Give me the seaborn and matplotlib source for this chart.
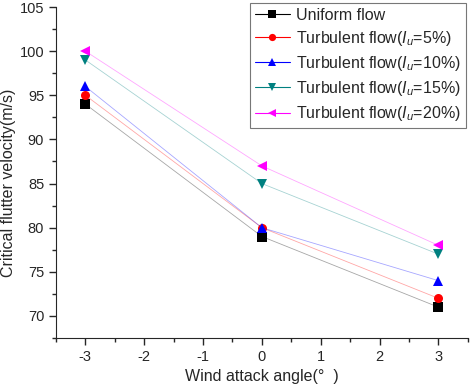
import matplotlib
matplotlib.use('Agg')
import matplotlib.pyplot as plt
import pandas as pd
import seaborn as sns
from matplotlib.colors import to_rgba
from matplotlib.ticker import MultipleLocator

angles = [-3, 0, 3]
uniform = [94, 79, 71]
turb_5 = [95, 80, 72]
turb_10 = [96, 80, 74]
turb_15 = [99, 85, 77]
turb_20 = [100, 87, 78]

labels = [
    'Uniform flow',
    r'Turbulent flow($I_u$=5%)',
    r'Turbulent flow($I_u$=10%)',
    r'Turbulent flow($I_u$=15%)',
    r'Turbulent flow($I_u$=20%)',
]
series = [uniform, turb_5, turb_10, turb_15, turb_20]
colors = ['#000000', '#ff0000', '#0000ff', '#008080', '#ff00ff']
markers = ['s', 'o', '^', 'v', '<']

rows = []
for lab, vals in zip(labels, series):
    for a, v in zip(angles, vals):
        rows.append({'angle': a, 'velocity': v, 'case': lab})
df = pd.DataFrame(rows)

sns.set_style('ticks')
plt.rcParams['font.family'] = ['Liberation Sans', 'DejaVu Sans']
plt.rcParams['mathtext.fontset'] = 'custom'
plt.rcParams['mathtext.it'] = 'Liberation Sans:italic'
plt.rcParams['mathtext.rm'] = 'Liberation Sans'
plt.rcParams['axes.unicode_minus'] = False

fig = plt.figure(figsize=(4.74, 3.89), dpi=100)
ax = fig.add_axes([0.118, 0.131, 0.869, 0.851])

sns.lineplot(data=df, x='angle', y='velocity', hue='case', style='case',
             hue_order=labels, style_order=labels,
             palette=dict(zip(labels, colors)), markers=dict(zip(labels, markers)),
             dashes=False, linewidth=0.6, markersize=6.5, markeredgewidth=0,
             ax=ax)

# lignes plus pâles, marqueurs pleins
for line, c in zip(ax.lines, colors):
    line.set_color(to_rgba(c, 0.35))
    line.set_markerfacecolor(c)
    line.set_markeredgecolor(c)

ax.set_xlim(-3.5, 3.5)
ax.set_ylim(67.5, 105)
ax.xaxis.set_major_locator(MultipleLocator(1))
ax.xaxis.set_minor_locator(MultipleLocator(0.5))
ax.yaxis.set_major_locator(MultipleLocator(5))
ax.yaxis.set_minor_locator(MultipleLocator(2.5))
ax.tick_params(which='major', direction='out', length=5, width=1, labelsize=10.5)
ax.tick_params(which='minor', direction='out', length=3, width=1)
ax.spines['top'].set_visible(False)
ax.spines['right'].set_visible(False)

ax.set_xlabel('Wind attack angle(°  )', fontsize=11.5)
ax.set_ylabel('Critical flutter velocity(m/s)', fontsize=11.5)
ax.yaxis.set_label_coords(-0.097, 0.47)

leg = ax.legend(loc='upper right', bbox_to_anchor=(0.995, 1.012), fontsize=11.5,
                frameon=True, fancybox=False, edgecolor='#555555',
                handlelength=2.2, labelspacing=0.38, borderaxespad=0.0,
                handletextpad=0.4, borderpad=0.3, markerscale=0.8)
leg.get_frame().set_linewidth(0.8)
for h, c in zip(leg.legend_handles, colors):
    h.set_color(c)
    h.set_linewidth(0.8)

fig.savefig('out.png', dpi=100)
